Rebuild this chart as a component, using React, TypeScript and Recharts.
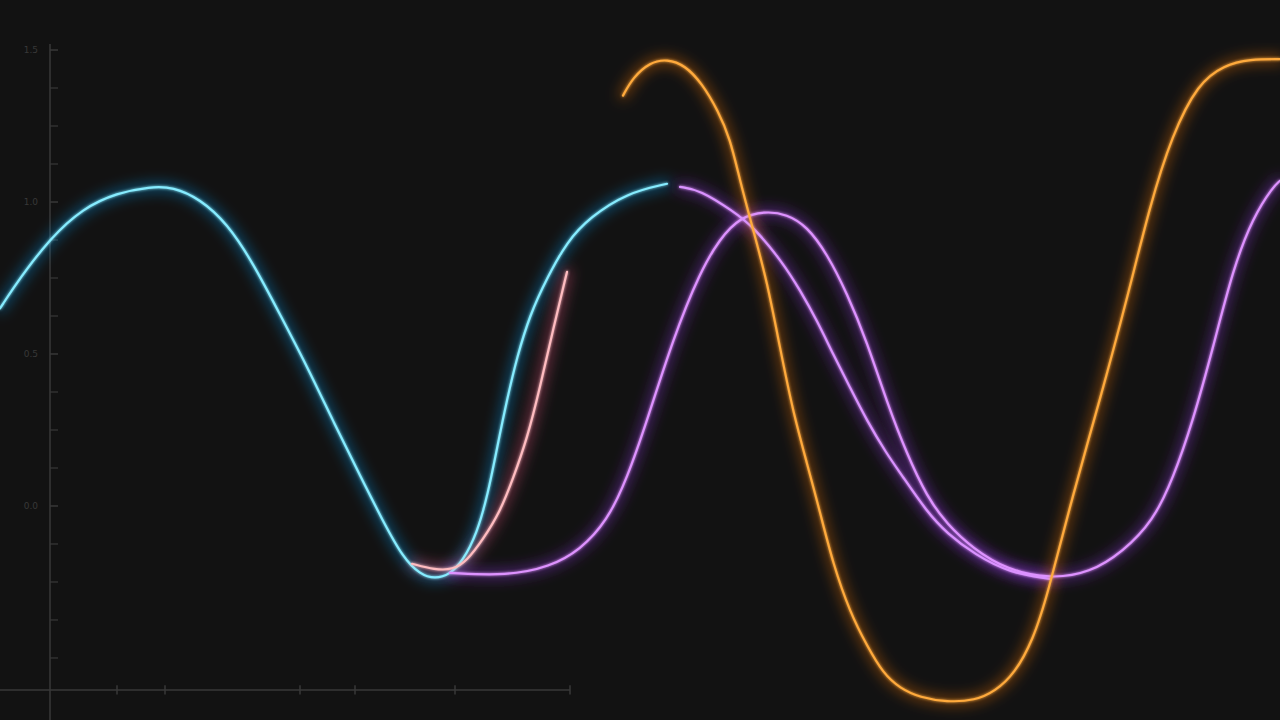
import React from "react";
import {
  LineChart,
  Line,
  XAxis,
  YAxis,
  ReferenceLine,
} from "recharts";

// Values (x: time units, y: amplitude)
const cyanT = [-0.5, -0.3, 0, 0.33, 0.67, 1.0, 1.23, 1.5, 1.77, 2.03, 2.3, 2.57, 2.83, 3.1, 3.33, 3.53, 3.7, 3.85, 4.0, 4.13, 4.27, 4.38, 4.47, 4.57, 4.67, 4.8, 4.97, 5.17, 5.4, 5.77, 6.17];
const cyanV = [0.65, 0.75, 0.88, 0.98, 1.03, 1.05, 1.05, 1.01, 0.93, 0.8, 0.63, 0.46, 0.28, 0.1, -0.05, -0.17, -0.225, -0.24, -0.225, -0.18, -0.09, 0.04, 0.19, 0.35, 0.49, 0.63, 0.75, 0.87, 0.95, 1.03, 1.06];

const pinkT = [3.62, 3.85, 4.03, 4.17, 4.33, 4.5, 4.63, 4.77, 4.9, 5.03, 5.17];
const pinkV = [-0.19, -0.21, -0.21, -0.18, -0.11, -0.02, 0.09, 0.22, 0.39, 0.58, 0.77];

const violetT = [4.0, 4.57, 5.0, 5.3, 5.57, 5.77, 5.97, 6.23, 6.5, 6.7, 6.9, 7.15, 7.37, 7.57, 7.77, 7.97, 8.17, 8.37, 8.57, 8.77, 8.97, 9.23, 9.57, 10.0, 10.4, 10.73, 11.03, 11.23, 11.43, 11.63, 11.83, 12.03, 12.23, 12.3];
const violetV = [-0.22, -0.23, -0.2, -0.145, -0.05, 0.09, 0.28, 0.55, 0.77, 0.88, 0.95, 0.97, 0.96, 0.92, 0.83, 0.7, 0.54, 0.34, 0.17, 0.03, -0.06, -0.14, -0.21, -0.24, -0.22, -0.15, -0.05, 0.09, 0.28, 0.52, 0.78, 0.95, 1.05, 1.07];

const lilacT = [6.3, 6.5, 6.83, 7.03, 7.33, 7.5, 7.67, 7.83, 8.0, 8.17, 8.37, 8.5, 8.77, 8.97, 9.25, 9.6, 10.0];
const lilacV = [1.05, 1.04, 0.97, 0.92, 0.8, 0.71, 0.61, 0.5, 0.39, 0.28, 0.17, 0.11, -0.02, -0.09, -0.16, -0.22, -0.24];

const orangeT = [5.73, 5.83, 6.0, 6.17, 6.35, 6.52, 6.68, 6.8, 6.9, 7.03, 7.17, 7.3, 7.43, 7.57, 7.7, 7.83, 8.0, 8.17, 8.33, 8.5, 8.7, 8.97, 9.25, 9.45, 9.65, 9.83, 9.97, 10.23, 10.5, 10.77, 11.0, 11.22, 11.48, 11.74, 12.0, 12.3];
const orangeV = [1.35, 1.41, 1.46, 1.47, 1.45, 1.39, 1.3, 1.21, 1.07, 0.91, 0.74, 0.52, 0.31, 0.14, -0.02, -0.19, -0.35, -0.46, -0.55, -0.6, -0.63, -0.645, -0.64, -0.61, -0.55, -0.44, -0.3, 0.04, 0.35, 0.68, 0.99, 1.22, 1.39, 1.45, 1.47, 1.47];

// axis ticks
const yMajorTicks = [0, 0.5, 1.0, 1.5];
const yMinorTicks = [-0.5, -0.375, -0.25, -0.125, 0.125, 0.25, 0.375, 0.625, 0.75, 0.875, 1.125, 1.25, 1.375];
const xTicks = [0.67, 1.15, 2.5, 3.05, 4.05, 5.2];
const xAxisLevel = -0.605;
const xAxisEnd = 5.2;
const yAxisTop = 1.52;

const zip = (t: number[], v: number[]) => t.map((x, i) => ({ x, y: v[i] }));

const series = [
  { key: "cyan", data: zip(cyanT, cyanV), core: "#86ecff", glow: "#00a6ff" },
  { key: "pink", data: zip(pinkT, pinkV), core: "#ffbcc0", glow: "#ff5a8c" },
  { key: "violet", data: zip(violetT, violetV), core: "#de92ff", glow: "#a33cff" },
  { key: "lilac", data: zip(lilacT, lilacV), core: "#da92ff", glow: "#a33cff" },
  { key: "orange", data: zip(orangeT, orangeV), core: "#ffaa3c", glow: "#ff7a00" },
];

const axisColor = "#383838";

const App = () => {
  return (
    <div
      style={{
        position: "fixed",
        left: 0,
        top: 0,
        width: 1280,
        height: 720,
        background: "#121212",
        fontFamily: "DejaVu Sans, sans-serif",
      }}
    >
      <LineChart
        width={1280}
        height={720}
        margin={{ top: 0, right: 0, bottom: 0, left: 0 }}
      >
        <defs>
          <filter
            id="wideGlow"
            filterUnits="userSpaceOnUse"
            x="0"
            y="0"
            width="1280"
            height="720"
          >
            <feGaussianBlur in="SourceGraphic" stdDeviation="7" />
          </filter>
          <filter
            id="softCore"
            filterUnits="userSpaceOnUse"
            x="0"
            y="0"
            width="1280"
            height="720"
          >
            <feGaussianBlur in="SourceGraphic" stdDeviation="1.6" result="b" />
            <feMerge>
              <feMergeNode in="b" />
              <feMergeNode in="SourceGraphic" />
            </feMerge>
          </filter>
        </defs>
        <XAxis type="number" dataKey="x" domain={[-0.5, 12.3]} hide />
        <YAxis type="number" dataKey="y" domain={[-0.704, 1.6645]} hide />

        {/* y axis */}
        <ReferenceLine
          segment={[{ x: 0, y: yAxisTop }, { x: 0, y: -0.704 }]}
          stroke={axisColor}
          strokeWidth={1.5}
        />
        {yMajorTicks.map((v) => (
          <ReferenceLine
            key={"ymaj" + v}
            segment={[{ x: 0, y: v }, { x: 0.08, y: v }]}
            stroke={axisColor}
            strokeWidth={1.5}
            label={{
              value: v.toFixed(1),
              position: "left",
              offset: 12,
              fill: "#383838",
              fontSize: 9,
            }}
          />
        ))}
        {yMinorTicks.map((v) => (
          <ReferenceLine
            key={"ymin" + v}
            segment={[{ x: 0, y: v }, { x: 0.08, y: v }]}
            stroke={axisColor}
            strokeWidth={1.2}
          />
        ))}

        {/* x axis */}
        <ReferenceLine
          segment={[{ x: -0.5, y: xAxisLevel }, { x: xAxisEnd, y: xAxisLevel }]}
          stroke={axisColor}
          strokeWidth={1.5}
        />
        {xTicks.map((t) => (
          <ReferenceLine
            key={"xt" + t}
            segment={[{ x: t, y: xAxisLevel + 0.015 }, { x: t, y: xAxisLevel - 0.015 }]}
            stroke={axisColor}
            strokeWidth={1.5}
          />
        ))}

        {/* glow layers first, bright cores on top */}
        {series.map((s) => (
          <Line
            key={s.key + "-glow"}
            data={s.data}
            dataKey="y"
            type="basis"
            stroke={s.glow}
            strokeWidth={7}
            strokeOpacity={0.55}
            strokeLinecap="round"
            filter="url(#wideGlow)"
            dot={false}
            activeDot={false}
            isAnimationActive={false}
          />
        ))}
        {series.map((s) => (
          <Line
            key={s.key + "-core"}
            data={s.data}
            dataKey="y"
            type="basis"
            stroke={s.core}
            strokeWidth={2.2}
            strokeLinecap="round"
            filter="url(#softCore)"
            dot={false}
            activeDot={false}
            isAnimationActive={false}
          />
        ))}
      </LineChart>
    </div>
  );
};

export default App;
